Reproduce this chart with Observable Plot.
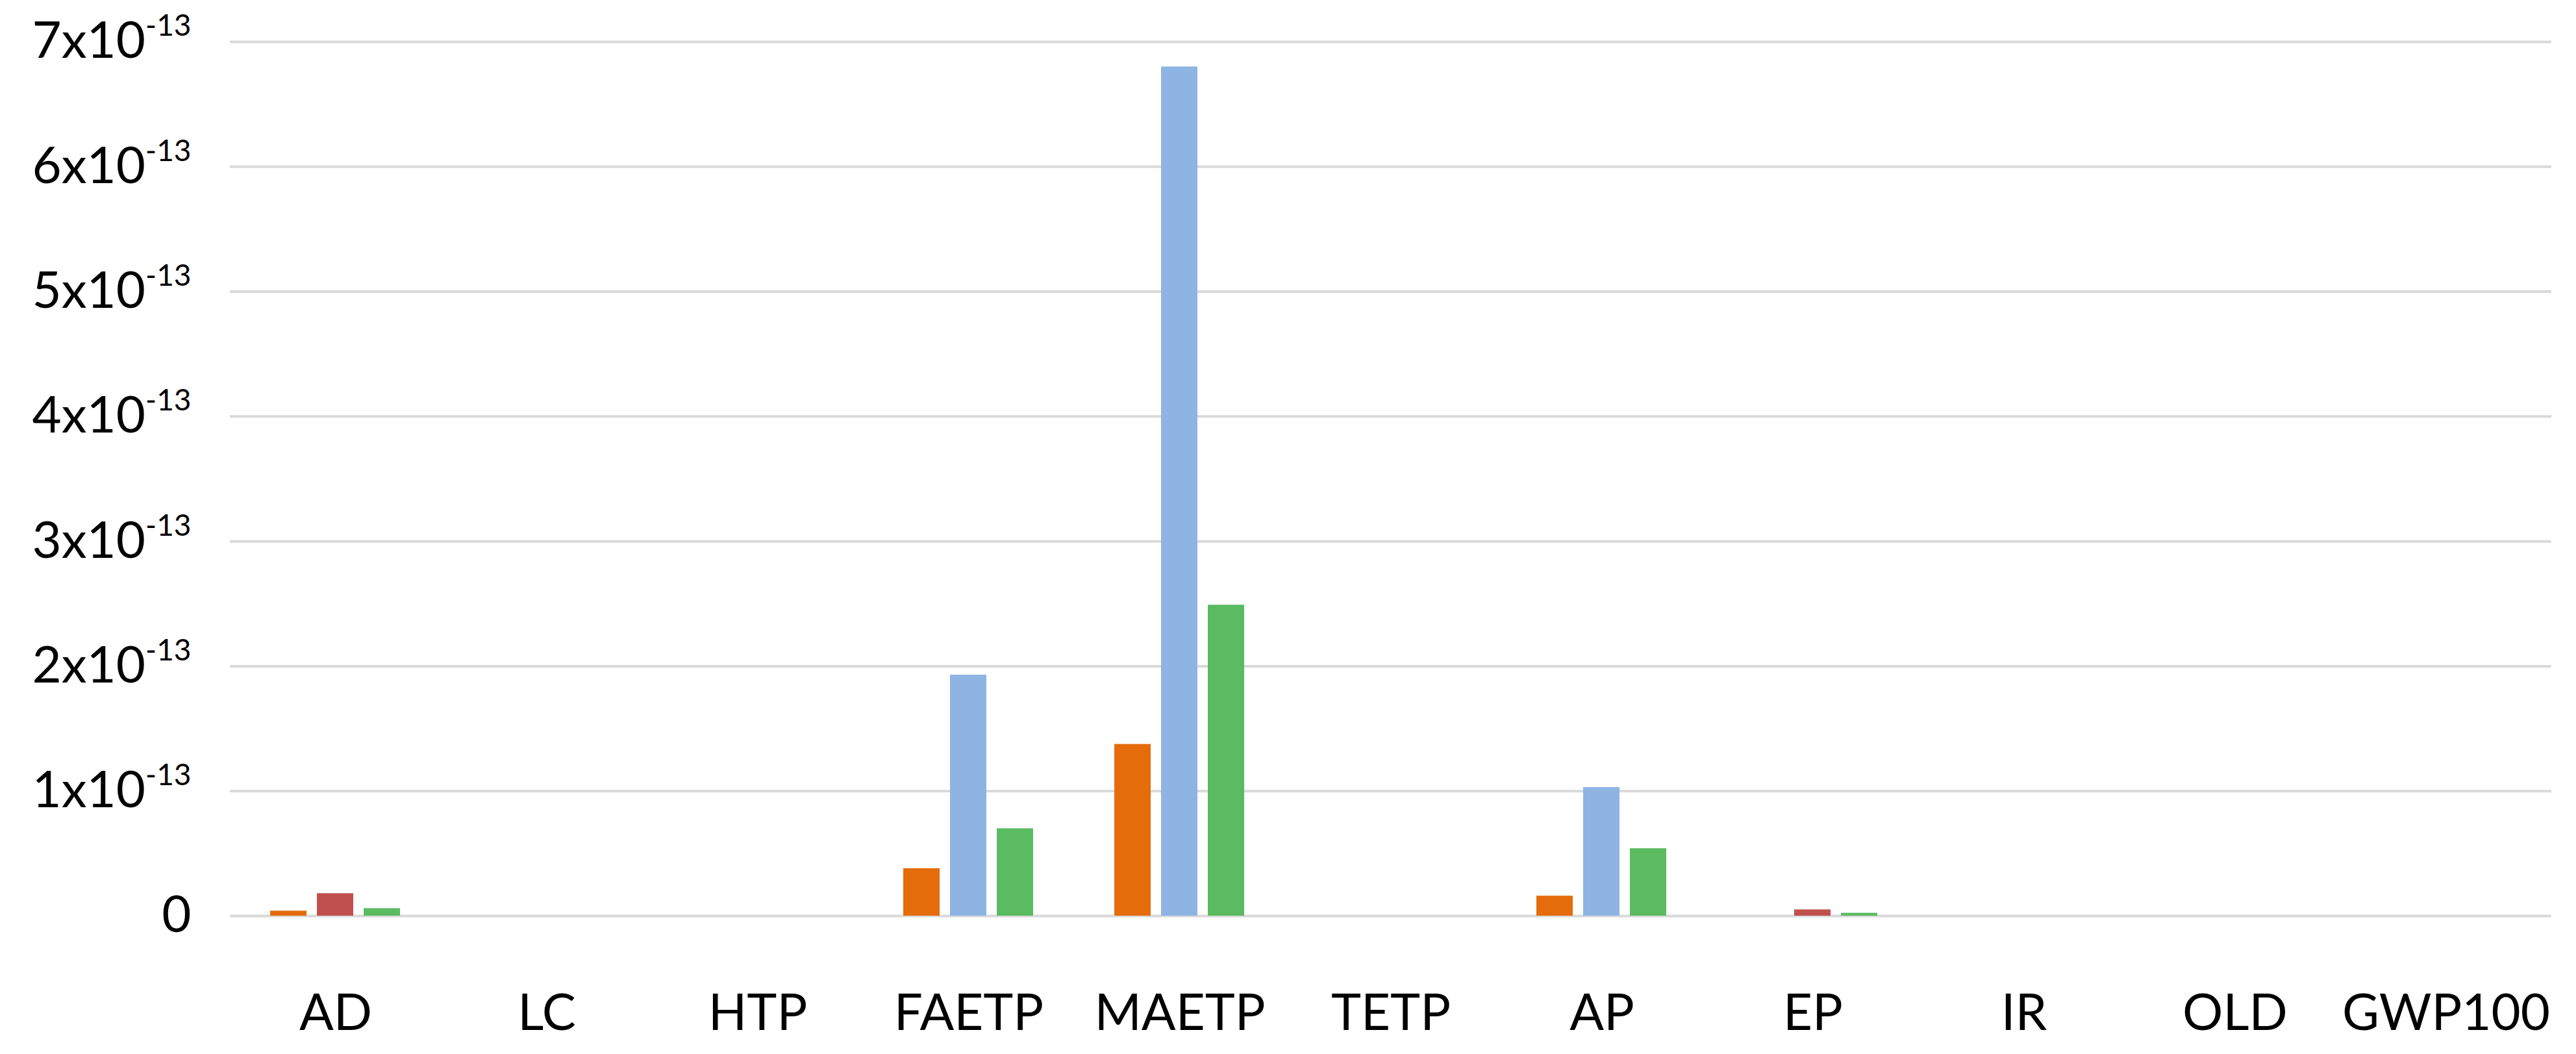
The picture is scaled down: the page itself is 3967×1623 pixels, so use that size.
<!DOCTYPE html>
<html>
<head>
<meta charset="utf-8">
<script src="https://cdn.jsdelivr.net/npm/d3@7"></script>
<script src="https://cdn.jsdelivr.net/npm/@observablehq/plot@0.6"></script>
<style>
  html, body { margin: 0; padding: 0; background: #ffffff; }
  #chart svg { display: block; }
</style>
</head>
<body>
<div id="chart"></div>
<script>
// Impact categories (x axis)
const categories = ["AD", "LC", "HTP", "FAETP", "MAETP", "TETP", "AP", "EP", "IR", "OLD", "GWP100"];

// Series values
const series1Values = [0.04e-13, 0, 0, 0.38e-13, 1.375e-13, 0, 0.16e-13, 0, 0, 0, 0];       // orange
const series2Values = [0.18e-13, 0, 0, 0, 0, 0, 0, 0.05e-13, 0, 0, 0];                       // red
const series3Values = [0, 0, 0, 1.93e-13, 6.80e-13, 0, 1.03e-13, 0, 0, 0, 0];               // blue
const series4Values = [0.06e-13, 0, 0, 0.70e-13, 2.49e-13, 0, 0.54e-13, 0.023e-13, 0, 0, 0]; // green

const seriesNames  = ["Series 1", "Series 2", "Series 3", "Series 4"];
const seriesColors = ["#E46C0A", "#C0504D", "#8EB4E3", "#5BBB61"];
const seriesSlot   = ["left", "middle", "middle", "right"];
const slots        = ["left", "middle", "right"];

// Y tick values and labels
const yTicks = [0, 1e-13, 2e-13, 3e-13, 4e-13, 5e-13, 6e-13, 7e-13];
const yTickLabels = ["0", "1x10-13", "2x10-13", "3x10-13", "4x10-13", "5x10-13", "6x10-13", "7x10-13"];

const seriesValues = [series1Values, series2Values, series3Values, series4Values];
const rows = [];
seriesNames.forEach((s, si) => {
  categories.forEach((c, ci) => {
    rows.push({category: c, series: s, slot: seriesSlot[si], value: seriesValues[si][ci]});
  });
});

const W = 3967, H = 1623;

const chart = Plot.plot({
  width: W,
  height: H,
  marginLeft: 349,
  marginRight: 34,
  marginTop: 64,
  marginBottom: 213,
  style: {fontFamily: "Lato, 'Open Sans', sans-serif", fontSize: "78px", color: "#000", background: "#fff"},
  fx: {domain: categories, padding: 0, label: null, tickSize: 0, tickPadding: 120, axis: "bottom"},
  x: {domain: slots, paddingInner: 0.22, paddingOuter: 0.84, axis: null},
  y: {domain: [0, 7e-13], ticks: yTicks, tickFormat: d => yTickLabels[yTicks.findIndex(t => Math.abs(t - d) < 1e-16)], tickSize: 0, tickPadding: 60, label: null},
  color: {domain: seriesNames, range: seriesColors},
  marks: [
    Plot.ruleY(yTicks, {stroke: "#d9d9d9", strokeWidth: 4}),
    Plot.barY(rows, {fx: "category", x: "slot", y: "value", fill: "series"})
  ]
});

// Turn the "-13" exponent of the y tick labels into a superscript (real text)
chart.querySelectorAll("text").forEach(t => {
  const m = /^(\d+x10)(-13)$/.exec(t.textContent);
  if (!m) return;
  t.textContent = "";
  const base = document.createElementNS("http://www.w3.org/2000/svg", "tspan");
  base.textContent = m[1];
  const sup = document.createElementNS("http://www.w3.org/2000/svg", "tspan");
  sup.textContent = m[2];
  sup.setAttribute("font-size", "46px");
  sup.setAttribute("dy", "-34");
  t.appendChild(base);
  t.appendChild(sup);
});

document.getElementById("chart").appendChild(chart);
</script>
</body>
</html>
